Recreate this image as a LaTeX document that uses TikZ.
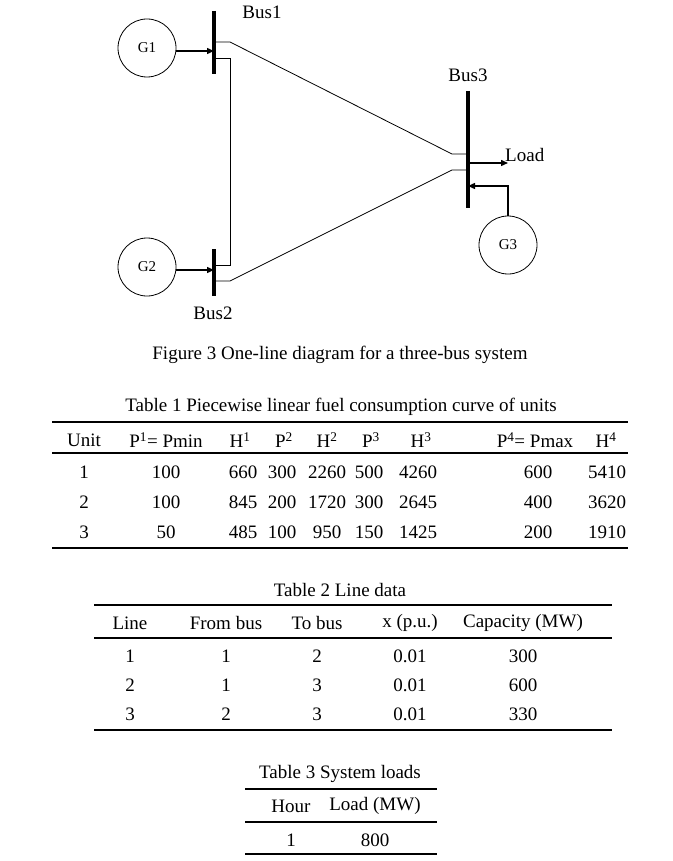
\documentclass[tikz,border=0pt]{standalone}
\usepackage{fontspec}
\setmainfont{Liberation Serif}
\usetikzlibrary{arrows.meta}
\begin{document}
\begin{tikzpicture}[x=1pt,y=-1pt,
  gen/.style={draw,circle,minimum size=58pt,inner sep=0pt,line width=0.8pt,font=\fontsize{15}{17}\selectfont},
  busbar/.style={line width=3.5pt},
  ln/.style={line width=0.8pt},
  inj/.style={line width=1.4pt,-{Triangle[length=7pt,width=6pt]}},
  txt/.style={font=\fontsize{19}{22}\selectfont,inner sep=0pt},
  rule/.style={line width=1.2pt}]
\useasboundingbox (0,0) rectangle (672,861);
% buses
\coordinate (b1t) at (214,11); \coordinate (b1b) at (214,74);
\coordinate (b2t) at (214,249); \coordinate (b2b) at (214,296);
\coordinate (b3t) at (468,91); \coordinate (b3b) at (468,208);
\draw[busbar] (b1t) -- (b1b);
\draw[busbar] (b2t) -- (b2b);
\draw[busbar] (b3t) -- (b3b);
\node[txt] (l1) at (262,12) {Bus1};
\node[txt] (l2) at (213,313) {Bus2};
\node[txt] (l3) at (468,75) {Bus3};
% generators
\node[gen] (g1) at (147,48) {G1};
\node[gen] (g2) at (147,267) {G2};
\node[gen] (g3) at (508,245) {G3};
\coordinate (a1) at (214,51); \coordinate (a2) at (214,270);
\draw[inj] (g1.east |- a1) -- (a1);
\draw[inj] (g2.east |- a2) -- (a2);
\coordinate (a3) at (468,186);
\draw[inj] (g3.north) |- (a3);
% load
\coordinate (ld) at (508,163);
\draw[inj] (468,163) -- (ld);
\node[txt,anchor=west] (load) at (505,155) {Load};
% lines
\draw[ln] (214,42) -- (230,42) -- (452,154) -- (468,154);
\draw[ln] (214,58) -- (230,58) -- (230,265) -- (214,265);
\draw[ln] (214,281) -- (230,281) -- (452,170) -- (468,170);
\node[txt] (cap) at (340,355) {Figure 3 One-line diagram for a three-bus system};
% Table 1
\node[txt] (t1) at (341,407) {Table 1 Piecewise linear fuel consumption curve of units};
\draw[rule] (52,422) -- (628,422);
\draw[rule] (52,453) -- (628,453);
\draw[rule] (52,548) -- (628,548);
\foreach \x/\t in {84/Unit,166/{P\textsuperscript{1}= Pmin},240/H\textsuperscript{1},284/P\textsuperscript{2},327/H\textsuperscript{2},371/P\textsuperscript{3},421/H\textsuperscript{3},535/{P\textsuperscript{4}= Pmax},606/H\textsuperscript{4}}
  \node[txt] at (\x,440) {\t};
\foreach \y/\a/\b/\c/\d/\e/\f/\g/\h/\i in {472/1/100/660/300/2260/500/4260/600/5410,502/2/100/845/200/1720/300/2645/400/3620,532/3/50/485/100/950/150/1425/200/1910}{
  \node[txt] at (84,\y) {\a}; \node[txt] at (166,\y) {\b}; \node[txt] at (243,\y) {\c};
  \node[txt] at (282,\y) {\d}; \node[txt] at (327,\y) {\e}; \node[txt] at (369,\y) {\f};
  \node[txt] at (418,\y) {\g}; \node[txt] at (538,\y) {\h}; \node[txt] at (607,\y) {\i};}
% Table 2
\node[txt] (t2) at (340,590) {Table 2 Line data};
\draw[rule] (94,605) -- (612,605);
\draw[rule] (94,638) -- (612,638);
\draw[rule] (94,730) -- (612,730);
\foreach \x/\t in {130/Line,226/From bus,317/To bus,410/x (p.u.),523/Capacity (MW)}
  \node[txt] at (\x,623) {\t};
\foreach \y/\a/\b/\c/\d/\e in {656/1/1/2/0.01/300,685/2/1/3/0.01/600,714/3/2/3/0.01/330}{
  \node[txt] at (130,\y) {\a}; \node[txt] at (226,\y) {\b}; \node[txt] at (317,\y) {\c};
  \node[txt] at (410,\y) {\d}; \node[txt] at (523,\y) {\e};}
% Table 3
\node[txt] (t3) at (340,774) {Table 3 System loads};
\draw[rule] (245,789) -- (437,789);
\draw[rule] (245,822) -- (437,822);
\draw[rule] (245,854) -- (437,854);
\node[txt] at (291,806) {Hour};
\node[txt] at (375,806) {Load (MW)};
\node[txt] at (291,840) {1};
\node[txt] at (375,840) {800};
\end{tikzpicture}
\end{document}
